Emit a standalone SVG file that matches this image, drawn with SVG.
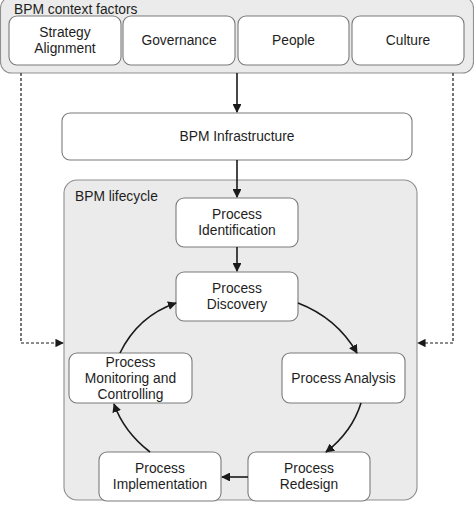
<svg xmlns="http://www.w3.org/2000/svg" width="474" height="507" viewBox="0 0 474 507">
<style>
text{font-family:"Liberation Sans",Arial,sans-serif;font-size:13.8px;fill:#1e1e1e;text-anchor:middle}
.lbl{text-anchor:start}
.box{fill:#fff;stroke:#7a7a7a;stroke-width:1.1}
.grp{fill:#ebebeb;stroke:#8f8f8f;stroke-width:1.1}
.c{fill:none;stroke:#1a1a1a;stroke-width:1.6}
.d{fill:none;stroke:#1a1a1a;stroke-width:1.2;stroke-dasharray:3,2}
</style>
<defs>
<marker id="ah" viewBox="0 0 10 10" refX="9" refY="5" markerWidth="5.6" markerHeight="5.6" orient="auto" markerUnits="strokeWidth">
<path d="M0,0 L10,5 L0,10 z" fill="#1a1a1a"/>
</marker>
<marker id="ahd" viewBox="0 0 10 10" refX="9" refY="5" markerWidth="7" markerHeight="7" orient="auto" markerUnits="strokeWidth">
<path d="M0,0 L10,5 L0,10 z" fill="#1a1a1a"/>
</marker>
</defs>
<g id="context">
<rect class="grp" x="0.5" y="-3" width="473" height="76" rx="11"/>
<text class="lbl" x="14" y="14">BPM context factors</text>
</g>
<g id="strategy"><rect class="box" x="9" y="16" width="112" height="49" rx="8"/><text x="65" y="37">Strategy</text><text x="65" y="53">Alignment</text></g>
<g id="governance"><rect class="box" x="123" y="16" width="112" height="49" rx="8"/><text x="179" y="45">Governance</text></g>
<g id="people"><rect class="box" x="238" y="16" width="111" height="49" rx="8"/><text x="293.5" y="45">People</text></g>
<g id="culture"><rect class="box" x="352" y="16" width="112" height="49" rx="8"/><text x="408" y="45">Culture</text></g>
<g id="infrastructure"><rect class="box" x="62" y="113" width="350" height="47" rx="8"/><text x="237" y="141">BPM Infrastructure</text></g>
<g id="lifecycle">
<rect class="grp" x="64" y="180" width="353" height="320" rx="13"/>
<text class="lbl" x="75" y="201">BPM lifecycle</text>
</g>
<g id="identification"><rect class="box" x="176" y="198" width="122" height="49" rx="8"/><text x="237" y="219">Process</text><text x="237" y="235">Identification</text></g>
<g id="discovery"><rect class="box" x="176" y="272" width="122" height="49" rx="8"/><text x="237" y="293">Process</text><text x="237" y="309">Discovery</text></g>
<g id="monitoring"><rect class="box" x="69" y="353" width="123" height="50" rx="8"/><text x="130.5" y="367">Process</text><text x="130.5" y="383">Monitoring and</text><text x="130.5" y="399">Controlling</text></g>
<g id="analysis"><rect class="box" x="282" y="353" width="123" height="50" rx="8"/><text x="343.5" y="383">Process Analysis</text></g>
<g id="implementation"><rect class="box" x="99" y="452" width="122" height="49" rx="8"/><text x="160" y="473">Process</text><text x="160" y="489">Implementation</text></g>
<g id="redesign"><rect class="box" x="248" y="452" width="122" height="49" rx="8"/><text x="309" y="473">Process</text><text x="309" y="489">Redesign</text></g>
<g id="connectors">
<path class="c" d="M237,73 L237,112" marker-end="url(#ah)"/>
<path class="c" d="M237,160 L237,197" marker-end="url(#ah)"/>
<path class="c" d="M237,247 L237,271" marker-end="url(#ah)"/>
<path class="c" d="M298,303 Q337,318 357,353" marker-end="url(#ah)"/>
<path class="c" d="M361,403 Q352,432 326,452" marker-end="url(#ah)"/>
<path class="c" d="M248,477 L222,477" marker-end="url(#ah)"/>
<path class="c" d="M150,452 Q124,432 114,404" marker-end="url(#ah)"/>
<path class="c" d="M120,353 Q138,316 176,303" marker-end="url(#ah)"/>
<path class="d" d="M21,73 L21,343 L63,343" marker-end="url(#ahd)"/>
<path class="d" d="M453,73 L453,343 L418,343" marker-end="url(#ahd)"/>
</g>
</svg>
